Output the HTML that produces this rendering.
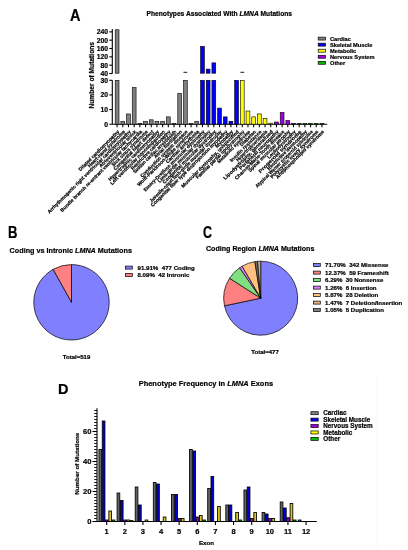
<!DOCTYPE html>
<html><head><meta charset="utf-8"><title>LMNA mutations figure</title>
<style>
html,body{margin:0;padding:0;background:#fff;}
svg{display:block;font-family:'Liberation Sans', Arial, Helvetica, sans-serif;}
text{fill:#000;stroke:#000;stroke-width:0.2px;}
</style></head><body>
<svg width="408" height="550" viewBox="0 0 408 550">
<rect width="408" height="550" fill="#fff"/>
<text transform="translate(70.0 20.8) scale(0.912 1)" font-size="15.9" font-weight="bold" stroke="none">A</text>
<text x="219.3" y="16.2" font-size="6.67" text-anchor="middle" font-weight="bold" >Phenotypes Associated With <tspan font-style="italic">LMNA</tspan> Mutations</text>
<g stroke="#000" stroke-width="1.1" fill="none">
<path d="M112.3 29.0 V73.5 M112.3 80.3 V124.65 M109.3 124.2 H327.2"/>
<path d="M109.3 31.85 H112.3"/>
<path d="M109.3 40.18 H112.3"/>
<path d="M109.3 48.51 H112.3"/>
<path d="M109.3 56.84 H112.3"/>
<path d="M109.3 65.17 H112.3"/>
<path d="M109.3 73.50 H112.3"/>
<path d="M109.3 80.30 H112.3"/>
<path d="M109.3 94.93 H112.3"/>
<path d="M109.3 109.57 H112.3"/>
<path d="M117.10 124.2 v3.0"/>
<path d="M122.79 124.2 v3.0"/>
<path d="M128.48 124.2 v3.0"/>
<path d="M134.17 124.2 v3.0"/>
<path d="M139.86 124.2 v3.0"/>
<path d="M145.55 124.2 v3.0"/>
<path d="M151.24 124.2 v3.0"/>
<path d="M156.93 124.2 v3.0"/>
<path d="M162.62 124.2 v3.0"/>
<path d="M168.31 124.2 v3.0"/>
<path d="M174.00 124.2 v3.0"/>
<path d="M179.69 124.2 v3.0"/>
<path d="M185.38 124.2 v3.0"/>
<path d="M191.07 124.2 v3.0"/>
<path d="M196.76 124.2 v3.0"/>
<path d="M202.45 124.2 v3.0"/>
<path d="M208.14 124.2 v3.0"/>
<path d="M213.83 124.2 v3.0"/>
<path d="M219.52 124.2 v3.0"/>
<path d="M225.21 124.2 v3.0"/>
<path d="M230.90 124.2 v3.0"/>
<path d="M236.59 124.2 v3.0"/>
<path d="M242.28 124.2 v3.0"/>
<path d="M247.97 124.2 v3.0"/>
<path d="M253.66 124.2 v3.0"/>
<path d="M259.35 124.2 v3.0"/>
<path d="M265.04 124.2 v3.0"/>
<path d="M270.73 124.2 v3.0"/>
<path d="M276.42 124.2 v3.0"/>
<path d="M282.11 124.2 v3.0"/>
<path d="M287.80 124.2 v3.0"/>
<path d="M293.49 124.2 v3.0"/>
<path d="M299.18 124.2 v3.0"/>
<path d="M304.87 124.2 v3.0"/>
<path d="M310.56 124.2 v3.0"/>
<path d="M316.25 124.2 v3.0"/>
<path d="M321.94 124.2 v3.0"/>
</g>
<text x="108.1" y="34.3" font-size="6.8" text-anchor="end" font-weight="bold" >240</text>
<text x="108.1" y="42.63" font-size="6.8" text-anchor="end" font-weight="bold" >200</text>
<text x="108.1" y="50.96" font-size="6.8" text-anchor="end" font-weight="bold" >160</text>
<text x="108.1" y="59.29" font-size="6.8" text-anchor="end" font-weight="bold" >120</text>
<text x="108.1" y="67.62" font-size="6.8" text-anchor="end" font-weight="bold" >80</text>
<text x="108.1" y="75.95" font-size="6.8" text-anchor="end" font-weight="bold" >40</text>
<text x="108.1" y="82.75" font-size="6.8" text-anchor="end" font-weight="bold" >30</text>
<text x="108.1" y="97.38" font-size="6.8" text-anchor="end" font-weight="bold" >20</text>
<text x="108.1" y="112.02" font-size="6.8" text-anchor="end" font-weight="bold" >10</text>
<text x="108.1" y="126.65" font-size="6.8" text-anchor="end" font-weight="bold" >0</text>
<text transform="translate(93.6 75.3) rotate(-90)" font-size="6.66" text-anchor="middle" font-weight="bold">Number of Mutations</text>
<g stroke="#000" stroke-width="0.6">
<rect x="115.20" y="80.3" width="3.8" height="43.90" fill="#808080"/>
<rect x="115.20" y="29.77" width="3.8" height="43.43" fill="#808080"/>
<rect x="120.89" y="121.27" width="3.8" height="2.93" fill="#808080"/>
<rect x="126.58" y="113.96" width="3.8" height="10.24" fill="#808080"/>
<rect x="132.27" y="87.62" width="3.8" height="36.58" fill="#808080"/>
<rect x="137.96" y="123.61" width="3.8" height="0.59" fill="#808080"/>
<rect x="143.65" y="121.27" width="3.8" height="2.93" fill="#808080"/>
<rect x="149.34" y="119.81" width="3.8" height="4.39" fill="#808080"/>
<rect x="155.03" y="121.27" width="3.8" height="2.93" fill="#808080"/>
<rect x="160.72" y="121.27" width="3.8" height="2.93" fill="#808080"/>
<rect x="166.41" y="116.88" width="3.8" height="7.32" fill="#808080"/>
<rect x="172.10" y="123.61" width="3.8" height="0.59" fill="#808080"/>
<rect x="177.79" y="93.47" width="3.8" height="30.73" fill="#808080"/>
<rect x="183.48" y="80.3" width="3.8" height="43.90" fill="#808080"/>
<path d="M183.48 72.3 h3.8" stroke-width="0.9"/>
<rect x="189.17" y="123.61" width="3.8" height="0.59" fill="#808080"/>
<rect x="194.86" y="121.27" width="3.8" height="2.93" fill="#808080"/>
<rect x="200.55" y="80.3" width="3.8" height="43.90" fill="#0000ff"/>
<rect x="200.55" y="46.43" width="3.8" height="26.77" fill="#0000ff"/>
<rect x="206.24" y="80.3" width="3.8" height="43.90" fill="#0000ff"/>
<rect x="206.24" y="69.13" width="3.8" height="4.07" fill="#0000ff"/>
<rect x="211.93" y="80.3" width="3.8" height="43.90" fill="#0000ff"/>
<rect x="211.93" y="62.88" width="3.8" height="10.32" fill="#0000ff"/>
<rect x="217.62" y="108.10" width="3.8" height="16.10" fill="#0000ff"/>
<rect x="223.31" y="116.88" width="3.8" height="7.32" fill="#0000ff"/>
<rect x="229.00" y="121.27" width="3.8" height="2.93" fill="#0000ff"/>
<rect x="234.69" y="80.3" width="3.8" height="43.90" fill="#0000ff"/>
<rect x="240.38" y="80.3" width="3.8" height="43.90" fill="#ffff00"/>
<path d="M240.38 72.3 h3.8" stroke-width="0.9"/>
<rect x="246.07" y="111.03" width="3.8" height="13.17" fill="#ffff00"/>
<rect x="251.76" y="116.88" width="3.8" height="7.32" fill="#ffff00"/>
<rect x="257.45" y="113.96" width="3.8" height="10.24" fill="#ffff00"/>
<rect x="263.14" y="118.35" width="3.8" height="5.85" fill="#ffff00"/>
<rect x="268.83" y="123.18" width="3.8" height="1.02" fill="#ffff00"/>
<rect x="274.52" y="122.00" width="3.8" height="2.20" fill="#a000e0"/>
<rect x="280.21" y="112.49" width="3.8" height="11.71" fill="#a000e0"/>
<rect x="285.90" y="120.40" width="3.8" height="3.80" fill="#a000e0"/>
<rect x="291.59" y="123.47" width="3.8" height="0.73" fill="#a000e0"/>
<rect x="297.28" y="123.61" width="3.8" height="0.59" fill="#00c000"/>
<rect x="302.97" y="123.61" width="3.8" height="0.59" fill="#00c000"/>
<rect x="308.66" y="123.61" width="3.8" height="0.59" fill="#00c000"/>
<rect x="314.35" y="123.61" width="3.8" height="0.59" fill="#00c000"/>
<rect x="320.04" y="123.61" width="3.8" height="0.59" fill="#00c000"/>
</g>
<g font-size="4.9" font-weight="bold" text-anchor="end" stroke="#000" stroke-width="0.15">
<text transform="translate(119.70 132.10) rotate(-45)">Dilated cardiomyopathy</text>
<text transform="translate(125.39 132.10) rotate(-45)">Heart-hand syndrome</text>
<text transform="translate(131.08 132.10) rotate(-45)">Arrhythmogenic right ventricular cardiomyopathy</text>
<text transform="translate(136.77 132.10) rotate(-45)">Atrioventricular block</text>
<text transform="translate(142.46 132.10) rotate(-45)">Bundle branch re-entrant ventricular tachycardia</text>
<text transform="translate(148.15 132.10) rotate(-45)">Sick sinus syndrome</text>
<text transform="translate(153.84 132.10) rotate(-45)">Congenital heart defect</text>
<text transform="translate(159.53 132.10) rotate(-45)">Hypertrophic cardiomyopathy</text>
<text transform="translate(165.22 132.10) rotate(-45)" textLength="75" lengthAdjust="spacingAndGlyphs">Left ventricular noncompaction</text>
<text transform="translate(170.91 132.10) rotate(-45)">Restrictive cardiopathy</text>
<text transform="translate(176.60 132.10) rotate(-45)" textLength="59" lengthAdjust="spacingAndGlyphs">Sudden cardiac arrest/death</text>
<text transform="translate(182.29 132.10) rotate(-45)">Atrial fibrillation</text>
<text transform="translate(187.98 132.10) rotate(-45)">Conduction system disease</text>
<text transform="translate(193.67 132.10) rotate(-45)">Wolff-Parkinson-White syndrome</text>
<text transform="translate(199.36 132.10) rotate(-45)">Cardiac arrhythmia</text>
<text transform="translate(205.05 132.10) rotate(-45)">Emery-Dreifuss muscular dystrophy</text>
<text transform="translate(210.74 132.10) rotate(-45)" textLength="72" lengthAdjust="spacingAndGlyphs">Limb-girdle muscular dystrophy</text>
<text transform="translate(216.43 132.10) rotate(-45)">Congenital muscular dystrophy</text>
<text transform="translate(222.12 132.10) rotate(-45)" textLength="100" lengthAdjust="spacingAndGlyphs">Juvenile-onset limb-girdle muscular dystrophy</text>
<text transform="translate(227.81 132.10) rotate(-45)" textLength="106" lengthAdjust="spacingAndGlyphs">Congenital fiber type disproportion myopathy</text>
<text transform="translate(233.50 132.10) rotate(-45)">Myopathy</text>
<text transform="translate(239.19 132.10) rotate(-45)" textLength="79" lengthAdjust="spacingAndGlyphs">Muscular dystrophy, unspecified</text>
<text transform="translate(244.88 132.10) rotate(-45)" textLength="66.5" lengthAdjust="spacingAndGlyphs">Familial partial lipodystrophy</text>
<text transform="translate(250.57 132.10) rotate(-45)" textLength="44.3" lengthAdjust="spacingAndGlyphs">Metabolic syndrome</text>
<text transform="translate(256.26 132.10) rotate(-45)">Diabetes</text>
<text transform="translate(261.95 132.10) rotate(-45)" textLength="42.7" lengthAdjust="spacingAndGlyphs">Insulin resistance</text>
<text transform="translate(267.64 132.10) rotate(-45)" textLength="42" lengthAdjust="spacingAndGlyphs">Hypertriglyceridemia</text>
<text transform="translate(273.33 132.10) rotate(-45)" textLength="67.9" lengthAdjust="spacingAndGlyphs">Lipodystrophy, generalized</text>
<text transform="translate(279.02 132.10) rotate(-45)" textLength="53.6" lengthAdjust="spacingAndGlyphs">Peripheral neuropathy</text>
<text transform="translate(284.71 132.10) rotate(-45)" textLength="67.7" lengthAdjust="spacingAndGlyphs">Charcot-Marie-Tooth disease</text>
<text transform="translate(290.40 132.10) rotate(-45)" textLength="56.8" lengthAdjust="spacingAndGlyphs">Spinal muscular atrophy</text>
<text transform="translate(296.09 132.10) rotate(-45)">Leukodystrophy</text>
<text transform="translate(301.78 132.10) rotate(-45)" textLength="58.4" lengthAdjust="spacingAndGlyphs">Progeroid syndrome</text>
<text transform="translate(307.47 132.10) rotate(-45)">Restrictive dermopathy</text>
<text transform="translate(313.16 132.10) rotate(-45)" textLength="79.2" lengthAdjust="spacingAndGlyphs">Atypical Werner progeroid syndrome</text>
<text transform="translate(318.85 132.10) rotate(-45)" textLength="66" lengthAdjust="spacingAndGlyphs">Polycystic ovary syndrome</text>
<text transform="translate(324.54 132.10) rotate(-45)" textLength="66.2" lengthAdjust="spacingAndGlyphs">Antiphospholipid syndrome</text>
</g>
<rect x="318.2" y="37.15" width="7.2" height="2.9" fill="#808080" stroke="#000" stroke-width="0.7"/>
<text x="330" y="40.65" font-size="5.7" text-anchor="start" font-weight="bold" >Cardiac</text>
<rect x="318.2" y="43.20" width="7.2" height="2.9" fill="#0000ff" stroke="#000" stroke-width="0.7"/>
<text x="330" y="46.7" font-size="5.7" text-anchor="start" font-weight="bold" >Skeletal Muscle</text>
<rect x="318.2" y="49.25" width="7.2" height="2.9" fill="#ffff00" stroke="#000" stroke-width="0.7"/>
<text x="330" y="52.75" font-size="5.7" text-anchor="start" font-weight="bold" >Metabolic</text>
<rect x="318.2" y="55.30" width="7.2" height="2.9" fill="#a000e0" stroke="#000" stroke-width="0.7"/>
<text x="330" y="58.8" font-size="5.7" text-anchor="start" font-weight="bold" >Nervous System</text>
<rect x="318.2" y="61.35" width="7.2" height="2.9" fill="#00c000" stroke="#000" stroke-width="0.7"/>
<text x="330" y="64.85" font-size="5.7" text-anchor="start" font-weight="bold" >Other</text>
<text transform="translate(7.95 237.5) scale(0.829 1)" font-size="15.8" font-weight="bold" stroke="none">B</text>
<text x="9.6" y="253.2" font-size="7.23" text-anchor="start" font-weight="bold" >Coding vs Intronic <tspan font-style="italic">LMNA</tspan> Mutations</text>
<g stroke="#000" stroke-width="0.7" stroke-linejoin="round">
<path d="M71.5 302.3 L71.50 264.60 A37.7 37.7 0 1 1 53.15 269.37 Z" fill="#8080ff"/>
<path d="M71.5 302.3 L53.15 269.37 A37.7 37.7 0 0 1 71.50 264.60 Z" fill="#ff8080"/>
</g>
<rect x="125.5" y="266.10" width="6.8" height="3" fill="#8080ff" stroke="#000" stroke-width="0.7"/>
<text x="137.5" y="269.8" font-size="6.15" text-anchor="start" font-weight="bold" xml:space="preserve">91.91%  477 Coding</text>
<rect x="125.5" y="273.50" width="6.8" height="3" fill="#ff8080" stroke="#000" stroke-width="0.7"/>
<text x="137.5" y="277.2" font-size="6.15" text-anchor="start" font-weight="bold" xml:space="preserve">8.09%  42 Intronic</text>
<text x="76.6" y="358.6" font-size="6.03" text-anchor="middle" font-weight="bold" >Total=519</text>
<text transform="translate(203.05 238.35) scale(0.794 1)" font-size="15.75" font-weight="bold" stroke="none">C</text>
<text x="206" y="251.2" font-size="7.1" text-anchor="start" font-weight="bold" >Coding Region <tspan font-style="italic">LMNA</tspan> Mutations</text>
<g stroke="#000" stroke-width="0.7" stroke-linejoin="round">
<path d="M260.7 298.2 L260.70 261.20 A37.0 37.0 0 1 1 224.49 305.82 Z" fill="#8080ff"/>
<path d="M260.7 298.2 L224.49 305.82 A37.0 37.0 0 0 1 229.55 278.24 Z" fill="#ff8080"/>
<path d="M260.7 298.2 L229.55 278.24 A37.0 37.0 0 0 1 239.63 267.78 Z" fill="#80e080"/>
<path d="M260.7 298.2 L239.63 267.78 A37.0 37.0 0 0 1 242.11 266.21 Z" fill="#e080ff"/>
<path d="M260.7 298.2 L242.11 266.21 A37.0 37.0 0 0 1 254.89 261.66 Z" fill="#ffc080"/>
<path d="M260.7 298.2 L254.89 261.66 A37.0 37.0 0 0 1 257.66 261.33 Z" fill="#707070"/>
<path d="M260.7 298.2 L257.66 261.33 A37.0 37.0 0 0 1 260.70 261.20 Z" fill="#d9b38c"/>
</g>
<rect x="313.5" y="263.60" width="6.8" height="3" fill="#8080ff" stroke="#000" stroke-width="0.7"/>
<text x="325.1" y="267.3" font-size="6.1" text-anchor="start" font-weight="bold" xml:space="preserve">71.70%  342 Missense</text>
<rect x="313.5" y="271.10" width="6.8" height="3" fill="#ff8080" stroke="#000" stroke-width="0.7"/>
<text x="325.1" y="274.8" font-size="6.1" text-anchor="start" font-weight="bold" xml:space="preserve">12.37%  59 Frameshift</text>
<rect x="313.5" y="278.60" width="6.8" height="3" fill="#80e080" stroke="#000" stroke-width="0.7"/>
<text x="325.1" y="282.3" font-size="6.1" text-anchor="start" font-weight="bold" xml:space="preserve">6.29%  30 Nonsense</text>
<rect x="313.5" y="286.10" width="6.8" height="3" fill="#e080ff" stroke="#000" stroke-width="0.7"/>
<text x="325.1" y="289.8" font-size="6.1" text-anchor="start" font-weight="bold" xml:space="preserve">1.26%  6 Insertion</text>
<rect x="313.5" y="293.60" width="6.8" height="3" fill="#ffc080" stroke="#000" stroke-width="0.7"/>
<text x="325.1" y="297.3" font-size="6.1" text-anchor="start" font-weight="bold" xml:space="preserve">5.87%  28 Deletion</text>
<rect x="313.5" y="301.10" width="6.8" height="3" fill="#e0b080" stroke="#000" stroke-width="0.7"/>
<text x="325.1" y="304.8" font-size="6.1" text-anchor="start" font-weight="bold" xml:space="preserve">1.47%  7 Deletion/Insertion</text>
<rect x="313.5" y="308.60" width="6.8" height="3" fill="#808080" stroke="#000" stroke-width="0.7"/>
<text x="325.1" y="312.3" font-size="6.1" text-anchor="start" font-weight="bold" xml:space="preserve">1.05%  5 Duplication</text>
<text x="265.1" y="353.7" font-size="6.03" text-anchor="middle" font-weight="bold" >Total=477</text>
<rect x="376.8" y="376" width="1" height="174" fill="#f8f8f8"/>
<text transform="translate(58.05 394.0) scale(0.932 1)" font-size="15.55" font-weight="bold" stroke="none">D</text>
<text x="205.9" y="386.3" font-size="7.45" text-anchor="middle" font-weight="bold" >Phenotype Frequency in <tspan font-style="italic">LMNA</tspan> Exons</text>
<g stroke="#000" stroke-width="1.1" fill="none">
<path d="M97.0 408.3 V521.95 M92.5 521.5 H316.8"/>
<path d="M94.2 518.50 H97.0" stroke-width="0.9"/>
<path d="M94.2 515.50 H97.0" stroke-width="0.9"/>
<path d="M94.2 512.50 H97.0" stroke-width="0.9"/>
<path d="M94.2 509.50 H97.0" stroke-width="0.9"/>
<path d="M94.2 506.50 H97.0" stroke-width="0.9"/>
<path d="M94.2 503.50 H97.0" stroke-width="0.9"/>
<path d="M94.2 500.50 H97.0" stroke-width="0.9"/>
<path d="M94.2 497.50 H97.0" stroke-width="0.9"/>
<path d="M94.2 494.50 H97.0" stroke-width="0.9"/>
<path d="M92.5 491.50 H97.0"/>
<path d="M94.2 488.50 H97.0" stroke-width="0.9"/>
<path d="M94.2 485.50 H97.0" stroke-width="0.9"/>
<path d="M94.2 482.50 H97.0" stroke-width="0.9"/>
<path d="M94.2 479.50 H97.0" stroke-width="0.9"/>
<path d="M94.2 476.50 H97.0" stroke-width="0.9"/>
<path d="M94.2 473.50 H97.0" stroke-width="0.9"/>
<path d="M94.2 470.50 H97.0" stroke-width="0.9"/>
<path d="M94.2 467.50 H97.0" stroke-width="0.9"/>
<path d="M94.2 464.50 H97.0" stroke-width="0.9"/>
<path d="M92.5 461.50 H97.0"/>
<path d="M94.2 458.50 H97.0" stroke-width="0.9"/>
<path d="M94.2 455.50 H97.0" stroke-width="0.9"/>
<path d="M94.2 452.50 H97.0" stroke-width="0.9"/>
<path d="M94.2 449.50 H97.0" stroke-width="0.9"/>
<path d="M94.2 446.50 H97.0" stroke-width="0.9"/>
<path d="M94.2 443.50 H97.0" stroke-width="0.9"/>
<path d="M94.2 440.50 H97.0" stroke-width="0.9"/>
<path d="M94.2 437.50 H97.0" stroke-width="0.9"/>
<path d="M94.2 434.50 H97.0" stroke-width="0.9"/>
<path d="M92.5 431.50 H97.0"/>
<path d="M94.2 428.50 H97.0" stroke-width="0.9"/>
<path d="M94.2 425.50 H97.0" stroke-width="0.9"/>
<path d="M94.2 422.50 H97.0" stroke-width="0.9"/>
<path d="M94.2 419.50 H97.0" stroke-width="0.9"/>
<path d="M94.2 416.50 H97.0" stroke-width="0.9"/>
<path d="M94.2 413.50 H97.0" stroke-width="0.9"/>
<path d="M94.2 410.50 H97.0" stroke-width="0.9"/>
<path d="M106.70 521.5 v3.4"/>
<path d="M124.83 521.5 v3.4"/>
<path d="M142.95 521.5 v3.4"/>
<path d="M161.07 521.5 v3.4"/>
<path d="M179.20 521.5 v3.4"/>
<path d="M197.32 521.5 v3.4"/>
<path d="M215.45 521.5 v3.4"/>
<path d="M233.57 521.5 v3.4"/>
<path d="M251.70 521.5 v3.4"/>
<path d="M269.82 521.5 v3.4"/>
<path d="M287.95 521.5 v3.4"/>
<path d="M306.07 521.5 v3.4"/>
</g>
<text x="91.5" y="434.2" font-size="7.6" text-anchor="end" font-weight="bold" >60</text>
<text x="91.5" y="464.2" font-size="7.6" text-anchor="end" font-weight="bold" >40</text>
<text x="91.5" y="494.2" font-size="7.6" text-anchor="end" font-weight="bold" >20</text>
<text x="91.5" y="524.2" font-size="7.6" text-anchor="end" font-weight="bold" >0</text>
<text x="106.7" y="534.1" font-size="7.5" text-anchor="middle" font-weight="bold" >1</text>
<text x="124.83" y="534.1" font-size="7.5" text-anchor="middle" font-weight="bold" >2</text>
<text x="142.95" y="534.1" font-size="7.5" text-anchor="middle" font-weight="bold" >3</text>
<text x="161.07" y="534.1" font-size="7.5" text-anchor="middle" font-weight="bold" >4</text>
<text x="179.2" y="534.1" font-size="7.5" text-anchor="middle" font-weight="bold" >5</text>
<text x="197.32" y="534.1" font-size="7.5" text-anchor="middle" font-weight="bold" >6</text>
<text x="215.45" y="534.1" font-size="7.5" text-anchor="middle" font-weight="bold" >7</text>
<text x="233.57" y="534.1" font-size="7.5" text-anchor="middle" font-weight="bold" >8</text>
<text x="251.7" y="534.1" font-size="7.5" text-anchor="middle" font-weight="bold" >9</text>
<text x="269.82" y="534.1" font-size="7.5" text-anchor="middle" font-weight="bold" >10</text>
<text x="287.95" y="534.1" font-size="7.5" text-anchor="middle" font-weight="bold" >11</text>
<text x="306.07" y="534.1" font-size="7.5" text-anchor="middle" font-weight="bold" >12</text>
<text x="206.5" y="545.1" font-size="6.2" text-anchor="middle" font-weight="bold" >Exon</text>
<text transform="translate(78.6 463.7) rotate(-90)" font-size="6.2" text-anchor="middle" font-weight="bold">Number of Mutations</text>
<g stroke="#000" stroke-width="0.85">
<rect x="98.95" y="449.50" width="2.7" height="72.00" fill="#646464"/>
<rect x="102.25" y="421.00" width="2.7" height="100.50" fill="#0000d0"/>
<rect x="105.55" y="520.00" width="2.7" height="1.50" fill="#9000c8"/>
<rect x="108.85" y="511.00" width="2.7" height="10.50" fill="#d8c41c"/>
<rect x="112.15" y="520.00" width="2.7" height="1.50" fill="#00a800"/>
<rect x="117.08" y="493.00" width="2.7" height="28.50" fill="#646464"/>
<rect x="120.38" y="500.50" width="2.7" height="21.00" fill="#0000d0"/>
<rect x="123.67" y="520.00" width="2.7" height="1.50" fill="#9000c8"/>
<rect x="126.97" y="520.00" width="2.7" height="1.50" fill="#d8c41c"/>
<rect x="130.28" y="520.60" width="2.7" height="0.90" fill="#00a800"/>
<rect x="135.20" y="487.00" width="2.7" height="34.50" fill="#646464"/>
<rect x="138.50" y="505.00" width="2.7" height="16.50" fill="#0000d0"/>
<rect x="145.10" y="520.00" width="2.7" height="1.50" fill="#d8c41c"/>
<rect x="153.32" y="482.50" width="2.7" height="39.00" fill="#646464"/>
<rect x="156.62" y="484.00" width="2.7" height="37.50" fill="#0000d0"/>
<rect x="163.22" y="517.00" width="2.7" height="4.50" fill="#d8c41c"/>
<rect x="171.45" y="494.50" width="2.7" height="27.00" fill="#646464"/>
<rect x="174.75" y="494.50" width="2.7" height="27.00" fill="#0000d0"/>
<rect x="178.05" y="518.50" width="2.7" height="3.00" fill="#9000c8"/>
<rect x="181.35" y="518.50" width="2.7" height="3.00" fill="#d8c41c"/>
<rect x="189.57" y="449.50" width="2.7" height="72.00" fill="#646464"/>
<rect x="192.88" y="451.00" width="2.7" height="70.50" fill="#0000d0"/>
<rect x="196.17" y="517.00" width="2.7" height="4.50" fill="#9000c8"/>
<rect x="199.47" y="515.50" width="2.7" height="6.00" fill="#d8c41c"/>
<rect x="202.77" y="520.00" width="2.7" height="1.50" fill="#00a800"/>
<rect x="207.70" y="488.50" width="2.7" height="33.00" fill="#646464"/>
<rect x="211.00" y="476.50" width="2.7" height="45.00" fill="#0000d0"/>
<rect x="217.60" y="506.50" width="2.7" height="15.00" fill="#d8c41c"/>
<rect x="225.82" y="505.00" width="2.7" height="16.50" fill="#646464"/>
<rect x="229.12" y="505.00" width="2.7" height="16.50" fill="#0000d0"/>
<rect x="235.72" y="512.50" width="2.7" height="9.00" fill="#d8c41c"/>
<rect x="239.02" y="520.00" width="2.7" height="1.50" fill="#00a800"/>
<rect x="243.95" y="490.00" width="2.7" height="31.50" fill="#646464"/>
<rect x="247.25" y="487.00" width="2.7" height="34.50" fill="#0000d0"/>
<rect x="250.55" y="518.50" width="2.7" height="3.00" fill="#9000c8"/>
<rect x="253.85" y="512.50" width="2.7" height="9.00" fill="#d8c41c"/>
<rect x="262.07" y="512.50" width="2.7" height="9.00" fill="#646464"/>
<rect x="265.38" y="514.00" width="2.7" height="7.50" fill="#0000d0"/>
<rect x="268.68" y="518.50" width="2.7" height="3.00" fill="#9000c8"/>
<rect x="271.97" y="518.50" width="2.7" height="3.00" fill="#d8c41c"/>
<rect x="280.20" y="502.00" width="2.7" height="19.50" fill="#646464"/>
<rect x="283.50" y="508.00" width="2.7" height="13.50" fill="#0000d0"/>
<rect x="286.80" y="517.75" width="2.7" height="3.75" fill="#9000c8"/>
<rect x="290.10" y="503.50" width="2.7" height="18.00" fill="#d8c41c"/>
<rect x="293.40" y="520.00" width="2.7" height="1.50" fill="#00a800"/>
<rect x="298.32" y="520.00" width="2.7" height="1.50" fill="#646464"/>
</g>
<rect x="310.9" y="411.70" width="7.3" height="3" fill="#808080" stroke="#000" stroke-width="0.7"/>
<text x="323.3" y="415.45" font-size="6.3" text-anchor="start" font-weight="bold" >Cardiac</text>
<rect x="310.9" y="418.12" width="7.3" height="3" fill="#0000ff" stroke="#000" stroke-width="0.7"/>
<text x="323.3" y="421.87" font-size="6.3" text-anchor="start" font-weight="bold" >Skeletal Muscle</text>
<rect x="310.9" y="424.54" width="7.3" height="3" fill="#a000e0" stroke="#000" stroke-width="0.7"/>
<text x="323.3" y="428.29" font-size="6.3" text-anchor="start" font-weight="bold" >Nervous System</text>
<rect x="310.9" y="430.96" width="7.3" height="3" fill="#ffff00" stroke="#000" stroke-width="0.7"/>
<text x="323.3" y="434.71" font-size="6.3" text-anchor="start" font-weight="bold" >Metabolic</text>
<rect x="310.9" y="437.38" width="7.3" height="3" fill="#00c000" stroke="#000" stroke-width="0.7"/>
<text x="323.3" y="441.13" font-size="6.3" text-anchor="start" font-weight="bold" >Other</text>
</svg>
</body></html>
